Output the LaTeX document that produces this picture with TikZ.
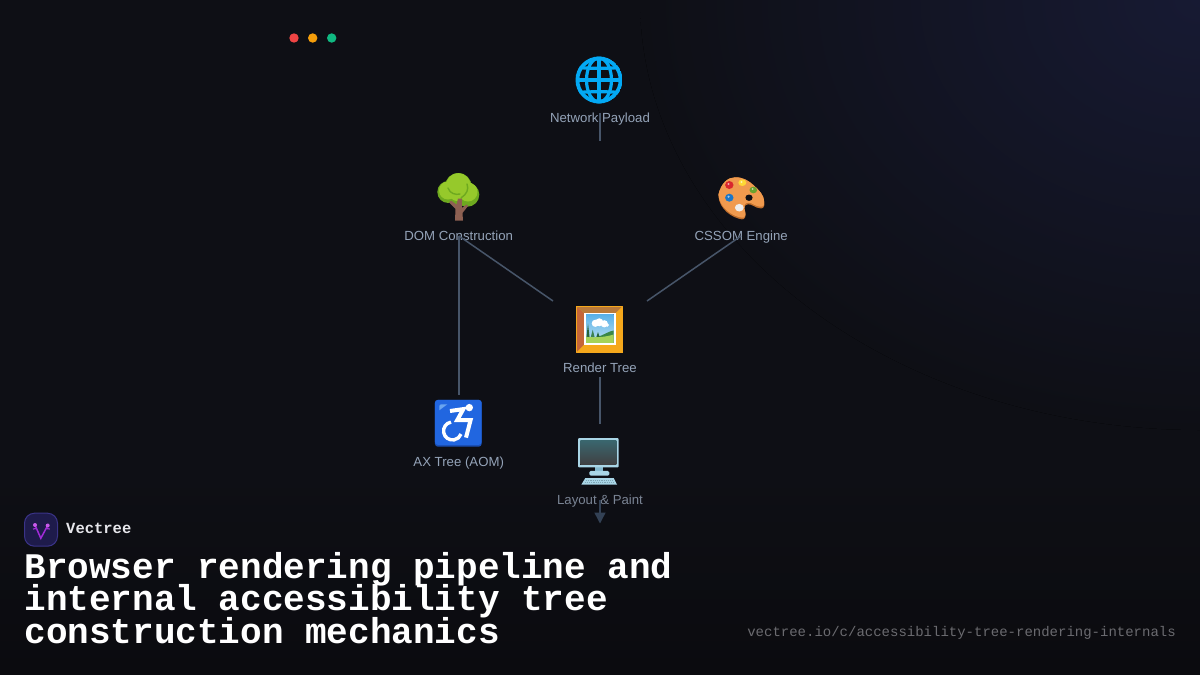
\documentclass[tikz,border=0pt]{standalone}
\usepackage{fontspec}
\setmainfont{Liberation Sans}
\setmonofont{Liberation Mono}
\usetikzlibrary{arrows.meta}
\definecolor{bgbase}{HTML}{0E0F15}
\definecolor{bgglow}{HTML}{171A33}
\definecolor{bgdark}{HTML}{0B0B0F}
\definecolor{lbl}{HTML}{94A3B8}
\definecolor{lbldim}{HTML}{7A8494}
\definecolor{wire}{HTML}{475569}
\definecolor{wiredim}{HTML}{334155}
\definecolor{dotR}{HTML}{EF4444}
\definecolor{dotA}{HTML}{F59E0B}
\definecolor{dotG}{HTML}{10B981}
\definecolor{globeC}{HTML}{03A9F4}
\definecolor{leafD}{HTML}{6EA91F}
\definecolor{leafL}{HTML}{96C92B}
\definecolor{bark}{HTML}{8D6052}
\definecolor{palette}{HTML}{F09A4E}
\definecolor{paletteD}{HTML}{BF6E2C}
\definecolor{pRed}{HTML}{D9272E}
\definecolor{pYel}{HTML}{FDD835}
\definecolor{pGrn}{HTML}{6AA32E}
\definecolor{pBlu}{HTML}{1976C8}
\definecolor{pWht}{HTML}{EDEDED}
\definecolor{frameO}{HTML}{F5A81C}
\definecolor{frameD}{HTML}{C4663A}
\definecolor{frameT}{HTML}{B97A3A}
\definecolor{skyT}{HTML}{58B0E8}
\definecolor{skyB}{HTML}{BEE2F0}
\definecolor{hillD}{HTML}{3A8746}
\definecolor{hillL}{HTML}{A4D25A}
\definecolor{pineD}{HTML}{26643C}
\definecolor{pineL}{HTML}{3C8250}
\definecolor{axblue}{HTML}{2166E0}
\definecolor{axblueD}{HTML}{1A4FB5}
\definecolor{axhi}{HTML}{6AA5F0}
\definecolor{monF}{HTML}{A9D5E6}
\definecolor{monN}{HTML}{84B8CE}
\definecolor{monS}{HTML}{404042}
\definecolor{monG}{HTML}{3A666E}
\definecolor{monK}{HTML}{7FA5B5}
\definecolor{logoF}{HTML}{1E1B4B}
\definecolor{logoB}{HTML}{3A3388}
\definecolor{logoV}{HTML}{A02BD8}
\definecolor{logoP}{HTML}{C85AEB}
\definecolor{brandC}{HTML}{E6E6EB}
\definecolor{urlC}{HTML}{6B6B70}
\newcommand{\palpath}{(-22.7,-3) .. controls (-20,-15) and (-13,-20.7) .. (-6,-20.7) .. controls (2,-21) and (8,-17) .. (12.3,-13) .. controls (18,-8) and (23,-3) .. (23.3,3.7) .. controls (24,9) and (22,11) .. (19,10.3) .. controls (14,10) and (11,6) .. (7.3,6.3) .. controls (3,6.5) and (3,10) .. (4,13) .. controls (6,19) and (3,22) .. (0.7,21.3) .. controls (-8,20) and (-22,12) .. (-22.7,-3) -- cycle}
\tikzset{
  x=1pt,y=-1pt,
  lab/.style={font=\fontsize{13.2}{15}\selectfont,text=lbl,inner sep=0pt,anchor=base},
  titleline/.style={font=\ttfamily\bfseries\fontsize{36}{36}\selectfont,text=white,inner sep=0pt,anchor=base west},
  wireline/.style={draw=wire,line width=1.5pt},
  iconbox/.style={inner sep=0pt,minimum size=46pt,draw=none,fill=none},
  dot/.style={circle,inner sep=0pt,minimum size=9.4pt}
}
\begin{document}
\begin{tikzpicture}
\useasboundingbox (0,0) rectangle (1200,675);
% background
\fill[bgbase] (0,0) rectangle (1200,675);
\begin{scope}
\clip (0,0) rectangle (1200,675);
\fill[inner color=bgglow,outer color=bgbase] (1200,0) ellipse (560 and 430);
\fill[bottom color=bgdark,top color=bgbase] (0,470) rectangle (1200,675);
\end{scope}
% window dots
\node[dot,fill=dotR] (dotr) at (294,38) {};
\node[dot,fill=dotA] (dota) at (312.7,38) {};
\node[dot,fill=dotG] (dotg) at (331.7,38) {};
% icon anchors
\node[iconbox] (globe) at (599,80) {};
\node[iconbox] (tree) at (459,197) {};
\node[iconbox] (pal) at (741,198) {};
\node[iconbox] (pic) at (599.3,329.3) {};
\node[iconbox] (ax) at (458.3,423.3) {};
\node[iconbox] (mon) at (599.5,461.5) {};
% globe
\begin{scope}[shift={(globe.center)}]
\begin{scope}[draw=globeC,line width=3.2pt]
\clip (0,0) circle (23.5);
\draw[line width=3.8pt] (0,0) circle (21.6);
\draw (0,0) ellipse (12.5 and 22);
\draw (0,-23) -- (0,23);
\draw (-23,0) -- (23,0);
\draw (-22,-12.5) .. controls (-10,-11.5) and (10,-11.5) .. (22,-12.5);
\draw (-22,12.5) .. controls (-10,11.5) and (10,11.5) .. (22,12.5);
\end{scope}
\end{scope}
% tree
\begin{scope}[shift={(tree.center)}]
\fill[leafD] (-0.7,-10.7) circle (13.3);
\fill[leafD] (-10.7,-5) circle (11);
\fill[leafD] (8.3,-2.3) circle (12);
\fill[leafD] (-1,2) circle (8);
\fill[leafL] (-0.7,-11.5) circle (12.3);
\fill[leafL] (-11,-6.5) circle (9);
\fill[leafL] (9,-5) circle (9.5);
\fill[leafL] (-2,-3) circle (7);
\draw[leafD,line width=1.4pt,line cap=round] (-11,-9) .. controls (-9,-3) and (-3,-2) .. (1,-3);
\draw[leafD,line width=1.4pt,line cap=round] (8,-13) .. controls (10,-8) and (8,-3) .. (2,1);
\fill[bark] (-4,23.7) -- (-3.5,12) -- (-10,5.5) -- (-8,3.5) -- (-2.5,7.5) -- (-1,1.5) -- (3,1.5) -- (2.8,11) -- (7.5,7.5) -- (9,9) -- (3.5,16) -- (4,23.7) -- cycle;
\end{scope}
% palette
\begin{scope}[shift={(pal.center)}]
\begin{scope}
\clip \palpath;
\fill[paletteD] (-26,-24) rectangle (26,24);
\begin{scope}[shift={(0,-1.6)}]
\fill[palette] \palpath;
\end{scope}
\end{scope}
\fill[bgbase] (8,-0.3) ellipse (3.6 and 3.2);
\fill[pRed] (-11.7,-13) ellipse (4.2 and 4);
\fill[pYel] (1.3,-15.3) ellipse (4 and 3.3);
\fill[pGrn] (12.3,-8) ellipse (3.8 and 3.3);
\fill[pBlu] (-11.7,-0.3) ellipse (4.2 and 4);
\fill[pWht] (-1.7,9.7) ellipse (4.4 and 3.8);
\fill[white,opacity=.6] (-12.5,-14) circle (1.2) (0.5,-16) circle (1.1) (11.5,-9) circle (1) (-12.5,-1.3) circle (1.2);
\end{scope}
% framed picture
\begin{scope}[shift={(pic.center)}]
\fill[frameO] (-23.3,-23.3) rectangle (23.3,23.3);
\fill[frameD] (-23.3,-23.3) -- (-15.5,-16.5) -- (-15.5,15.5) -- (-23.3,23.3) -- cycle;
\fill[frameT] (-23.3,-23.3) -- (23.3,-23.3) -- (16.5,-16.5) -- (-15.5,-16.5) -- cycle;
\draw[frameO,line width=1pt] (-22.8,22.8) -- (-22.8,-22.8) -- (22.8,-22.8);
\fill[white] (-15.5,-16.5) rectangle (16.5,15.5);
\begin{scope}
\clip (-13.3,-15) rectangle (14.4,13.4);
\fill[top color=skyT,bottom color=skyB] (-13.3,-15) rectangle (14.4,13.4);
\fill[white] (-4,-6) circle (3.6) (0,-7) circle (4) (5,-5.5) circle (3.6) (8,-4.2) circle (1.8);
\fill[hillD] (-2,14) -- (-2,7.7) .. controls (4,6) and (9,2) .. (15,1) -- (15,14) -- cycle;
\fill[pineD] (-13,9) -- (-11.3,-5.7) -- (-9.6,9) -- cycle;
\fill[pineL] (-8.6,8) -- (-6.6,0.5) -- (-4.6,8) -- cycle;
\fill[pineD] (-3,8) -- (-1.3,2.7) -- (0.4,8) -- cycle;
\fill[hillL] (-14,14) -- (-14,7.5) .. controls (-4,8.5) and (6,8) .. (15,5) -- (15,14) -- cycle;
\end{scope}
\end{scope}
% accessibility
\begin{scope}[shift={(ax.center)}]
\fill[axblueD,rounded corners=3pt] (-23.4,-23.4) rectangle (23.4,23.4);
\fill[axblue,rounded corners=3pt] (-23.4,-23.4) rectangle (23.4,21.6);
\fill[axhi] (-19,-13) -- (-19,-17.5) .. controls (-19,-18.5) and (-18.5,-19) .. (-17.5,-19) -- (-11,-19) -- cycle;
\fill[white] (11,-15.7) circle (3.7);
\draw[white,line width=3.4pt] (-7.3,-1.2) arc[start angle=260,end angle=20,radius=9];
\draw[white,line width=4pt,line join=miter] (-8.3,-12.3) -- (5,-14.2) -- (-1,-3.3) -- (12.3,-3.3) -- (7.7,14.3);
\end{scope}
% monitor
\begin{scope}[shift={(mon.center)}]
\fill[monN] (-4.2,5) -- (3.2,5) -- (3.2,9.8) -- (-4.2,9.8) -- cycle;
\fill[monF,rounded corners=1.5pt] (-10.2,9.4) rectangle (9.8,14.2);
\fill[monF,rounded corners=1pt] (-21.5,-23.5) rectangle (19.2,5.8);
\fill[top color=monG,bottom color=monS] (-19.2,-20.8) rectangle (16.8,3.2);
\fill[monF] (-14.2,16.5) -- (14.2,16.5) -- (17.6,23.2) -- (-18.2,23.2) -- cycle;
\draw[monK,line width=.6pt,dash pattern=on 1.2pt off 1pt] (-13.5,18.5) -- (13.5,18.5) (-15,20.8) -- (15,20.8);
\end{scope}
% logo
\node[draw=logoB,line width=1pt,fill=logoF,rounded corners=10pt,minimum width=33pt,minimum height=33pt,inner sep=0pt] (logo) at (41,529.7) {};
\coordinate (logoL) at (35,525);
\coordinate (logoR) at (47.7,525.5);
\coordinate (logoB0) at (40.8,538.3);
\draw[logoV,line width=1.5pt] (logoL) -- (logoB0) -- (logoR);
\draw[logoV,line width=1.2pt] (33,529) -- (36.5,528.5) (49.8,529) -- (46,528.5);
\fill[logoP] (logoL) circle (2) (logoR) circle (2);
% connector ends
\coordinate (netA) at (600,113);
\coordinate (netB) at (600,141);
\coordinate (domA) at (459,236);
\coordinate (domAx) at (459,395);
\coordinate (domR) at (553,301);
\coordinate (cssA) at (741,236);
\coordinate (cssR) at (647,301);
\coordinate (renA) at (600,377);
\coordinate (renB) at (600,424);
\coordinate (layA) at (600,500);
\coordinate (layB) at (600,523.5);
% labels
\node[lab] (lnet) at (600,122) {Network Payload};
\node[lab] (ldom) at (458.7,240) {DOM Construction};
\node[lab] (lcss) at (741.2,240) {CSSOM Engine};
\node[lab] (lren) at (600,372) {Render Tree};
\node[lab] (lax) at (458.7,466) {AX Tree (AOM)};
\node[lab,text=lbldim] (llay) at (600,504) {Layout \& Paint};
% connectors
\draw[wireline] (netA) -- (netB);
\draw[wireline] (domA) -- (domAx);
\draw[wireline] (domA) -- (domR);
\draw[wireline] (cssA) -- (cssR);
\draw[wireline] (renA) -- (renB);
\draw[draw=wiredim,line width=1.5pt,-{Triangle[length=11pt,width=11pt,fill=wiredim]}] (layA) -- (layB);
% footer text
\node[font=\ttfamily\bfseries\fontsize{15.5}{18}\selectfont,text=brandC,inner sep=0pt,anchor=base west] (brand) at (66,533) {Vectree};
\node[titleline] (t1) at (24.4,578.7) {Browser rendering pipeline and};
\node[titleline] (t2) at (24.4,610.9) {internal accessibility tree};
\node[titleline] (t3) at (24.4,643.7) {construction mechanics};
\node[font=\ttfamily\fontsize{14}{16}\selectfont,text=urlC,inner sep=0pt,anchor=base east] (url) at (1176,636.5) {vectree.io/c/accessibility-tree-rendering-internals};
\end{tikzpicture}
\end{document}
